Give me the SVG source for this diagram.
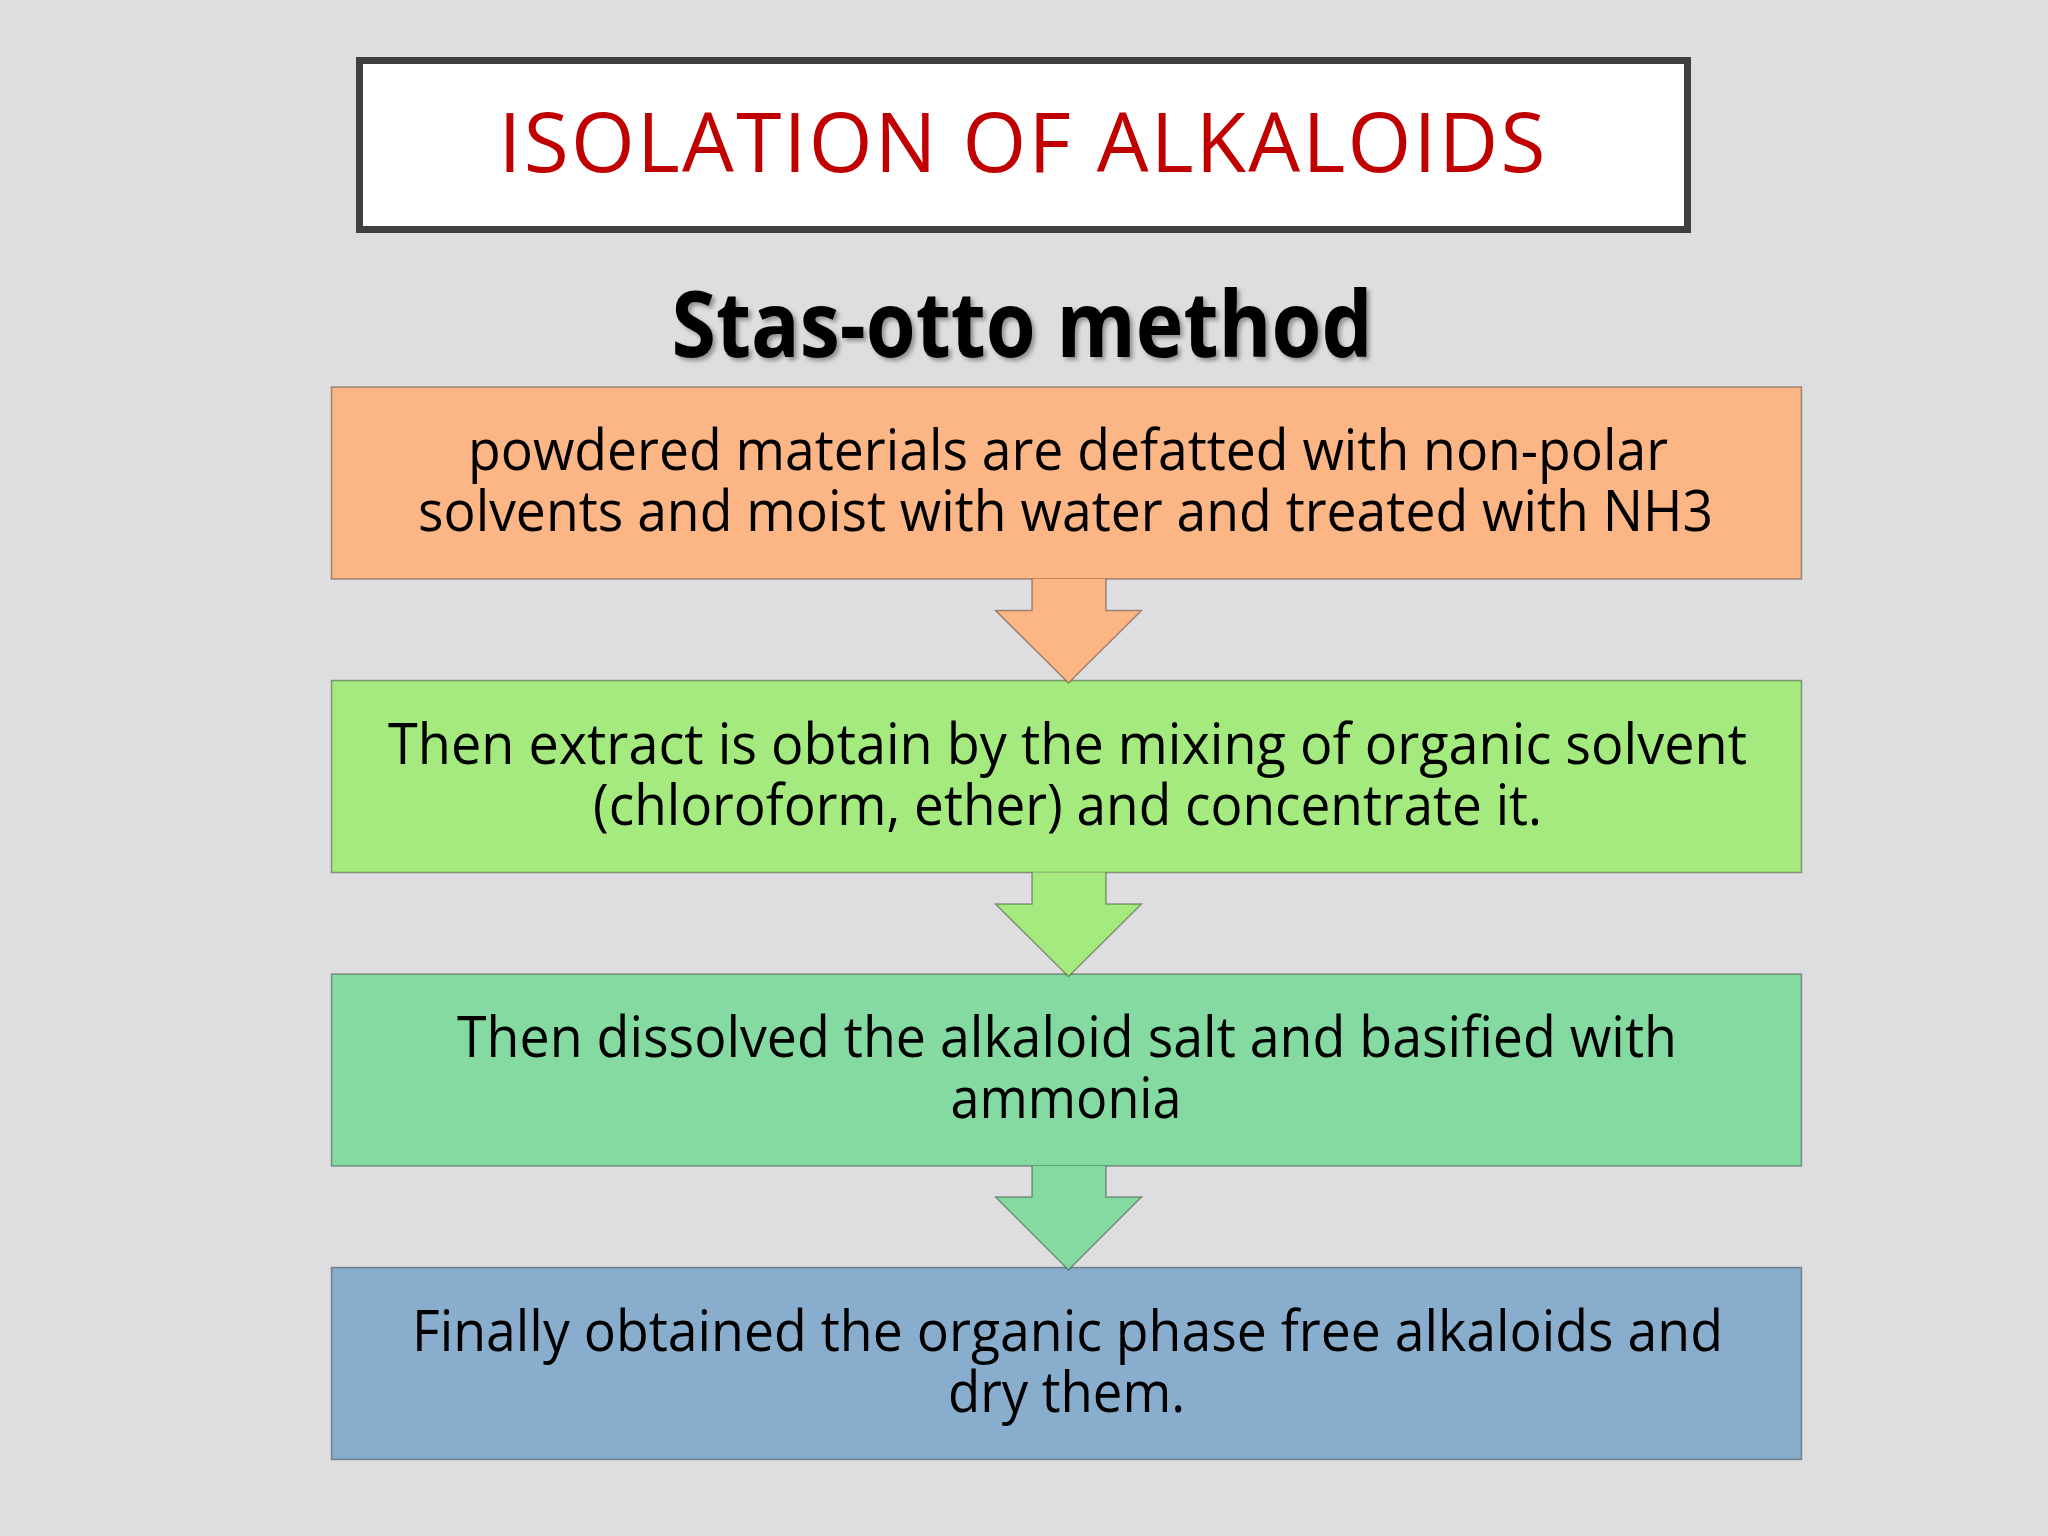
<svg xmlns="http://www.w3.org/2000/svg" width="2048" height="1536" viewBox="0 0 2048 1536">
  <defs>
    <filter id="shadow" x="-5%" y="-20%" width="110%" height="140%">
      <feDropShadow dx="3" dy="3" stdDeviation="2" flood-color="#000" flood-opacity="0.35"/>
    </filter>
  </defs>
  <style>
    .bg { fill: #DEDDDF; }
    .box { stroke: #000; stroke-opacity: 0.35; stroke-width: 1.5; }
    .arrow { stroke: #000; stroke-opacity: 0.35; stroke-width: 1.5; stroke-linejoin: miter; }
    .orange { fill: #FCB584; }
    .green { fill: #A5EA7E; }
    .teal { fill: #84DAA0; }
    .blue { fill: #89ADCD; }
    .txt { font-family: "Segoe UI", "Open Sans", "Noto Sans", sans-serif; font-size: 56px; fill: #000; text-anchor: middle; }
    .title { font-family: "Segoe UI", "Open Sans", "Noto Sans", sans-serif; font-size: 82px; fill: #C00000; text-anchor: middle; }
    .sub { font-family: "Segoe UI", "Open Sans", "Noto Sans", sans-serif; font-size: 92px; font-weight: bold; fill: #000; text-anchor: middle; }
  </style>
  <rect class="bg" x="0" y="0" width="2048" height="1536"/>

  <g id="title">
    <rect x="359.5" y="60.5" width="1328" height="169" fill="#FFFFFF" stroke="#404040" stroke-width="7"/>
    <text class="title" x="1022" y="172" textLength="1047" lengthAdjust="spacing">ISOLATION OF ALKALOIDS</text>
  </g>

  <g id="subtitle">
    <text class="sub" x="1022" y="357" textLength="701" lengthAdjust="spacingAndGlyphs" filter="url(#shadow)">Stas-otto method</text>
  </g>

  <g id="step1">
    <rect class="box orange" x="331.5" y="387" width="1470" height="192"/>
    <text class="txt"><tspan x="1068" y="470" textLength="1200" lengthAdjust="spacingAndGlyphs">powdered materials are defatted with non-polar</tspan><tspan x="1065.5" y="531" textLength="1295" lengthAdjust="spacingAndGlyphs">solvents and moist with water and treated with NH3</tspan></text>
  </g>

  <g id="step2">
    <rect class="box green" x="331.5" y="680.5" width="1470" height="192"/>
    <text class="txt"><tspan x="1067.5" y="764" textLength="1359" lengthAdjust="spacingAndGlyphs">Then extract is obtain by the mixing of organic solvent</tspan><tspan x="1067.5" y="825" textLength="949" lengthAdjust="spacingAndGlyphs">(chloroform, ether) and concentrate it.</tspan></text>
  </g>

  <g id="step3">
    <rect class="box teal" x="331.5" y="974" width="1470" height="192"/>
    <text class="txt"><tspan x="1067" y="1057" textLength="1220" lengthAdjust="spacingAndGlyphs">Then dissolved the alkaloid salt and basified with</tspan><tspan x="1066" y="1118" textLength="231" lengthAdjust="spacingAndGlyphs">ammonia</tspan></text>
  </g>

  <g id="step4">
    <rect class="box blue" x="331.5" y="1267.5" width="1470" height="192"/>
    <text class="txt"><tspan x="1067.5" y="1351" textLength="1311" lengthAdjust="spacingAndGlyphs">Finally obtained the organic phase free alkaloids and</tspan><tspan x="1066.5" y="1412" textLength="237" lengthAdjust="spacingAndGlyphs">dry them.</tspan></text>
  </g>

  <g id="connectors">
    <path class="arrow orange" d="M1032,579 L1032,610.5 L995.5,610.5 L1068.5,683 L1141.5,610.5 L1106,610.5 L1106,579"/>
    <path class="arrow green" d="M1032,872.5 L1032,904 L995.5,904 L1068.5,976.5 L1141.5,904 L1106,904 L1106,872.5"/>
    <path class="arrow teal" d="M1032,1166 L1032,1197 L995.5,1197 L1068.5,1270 L1141.5,1197 L1106,1197 L1106,1166"/>
  </g>
</svg>
